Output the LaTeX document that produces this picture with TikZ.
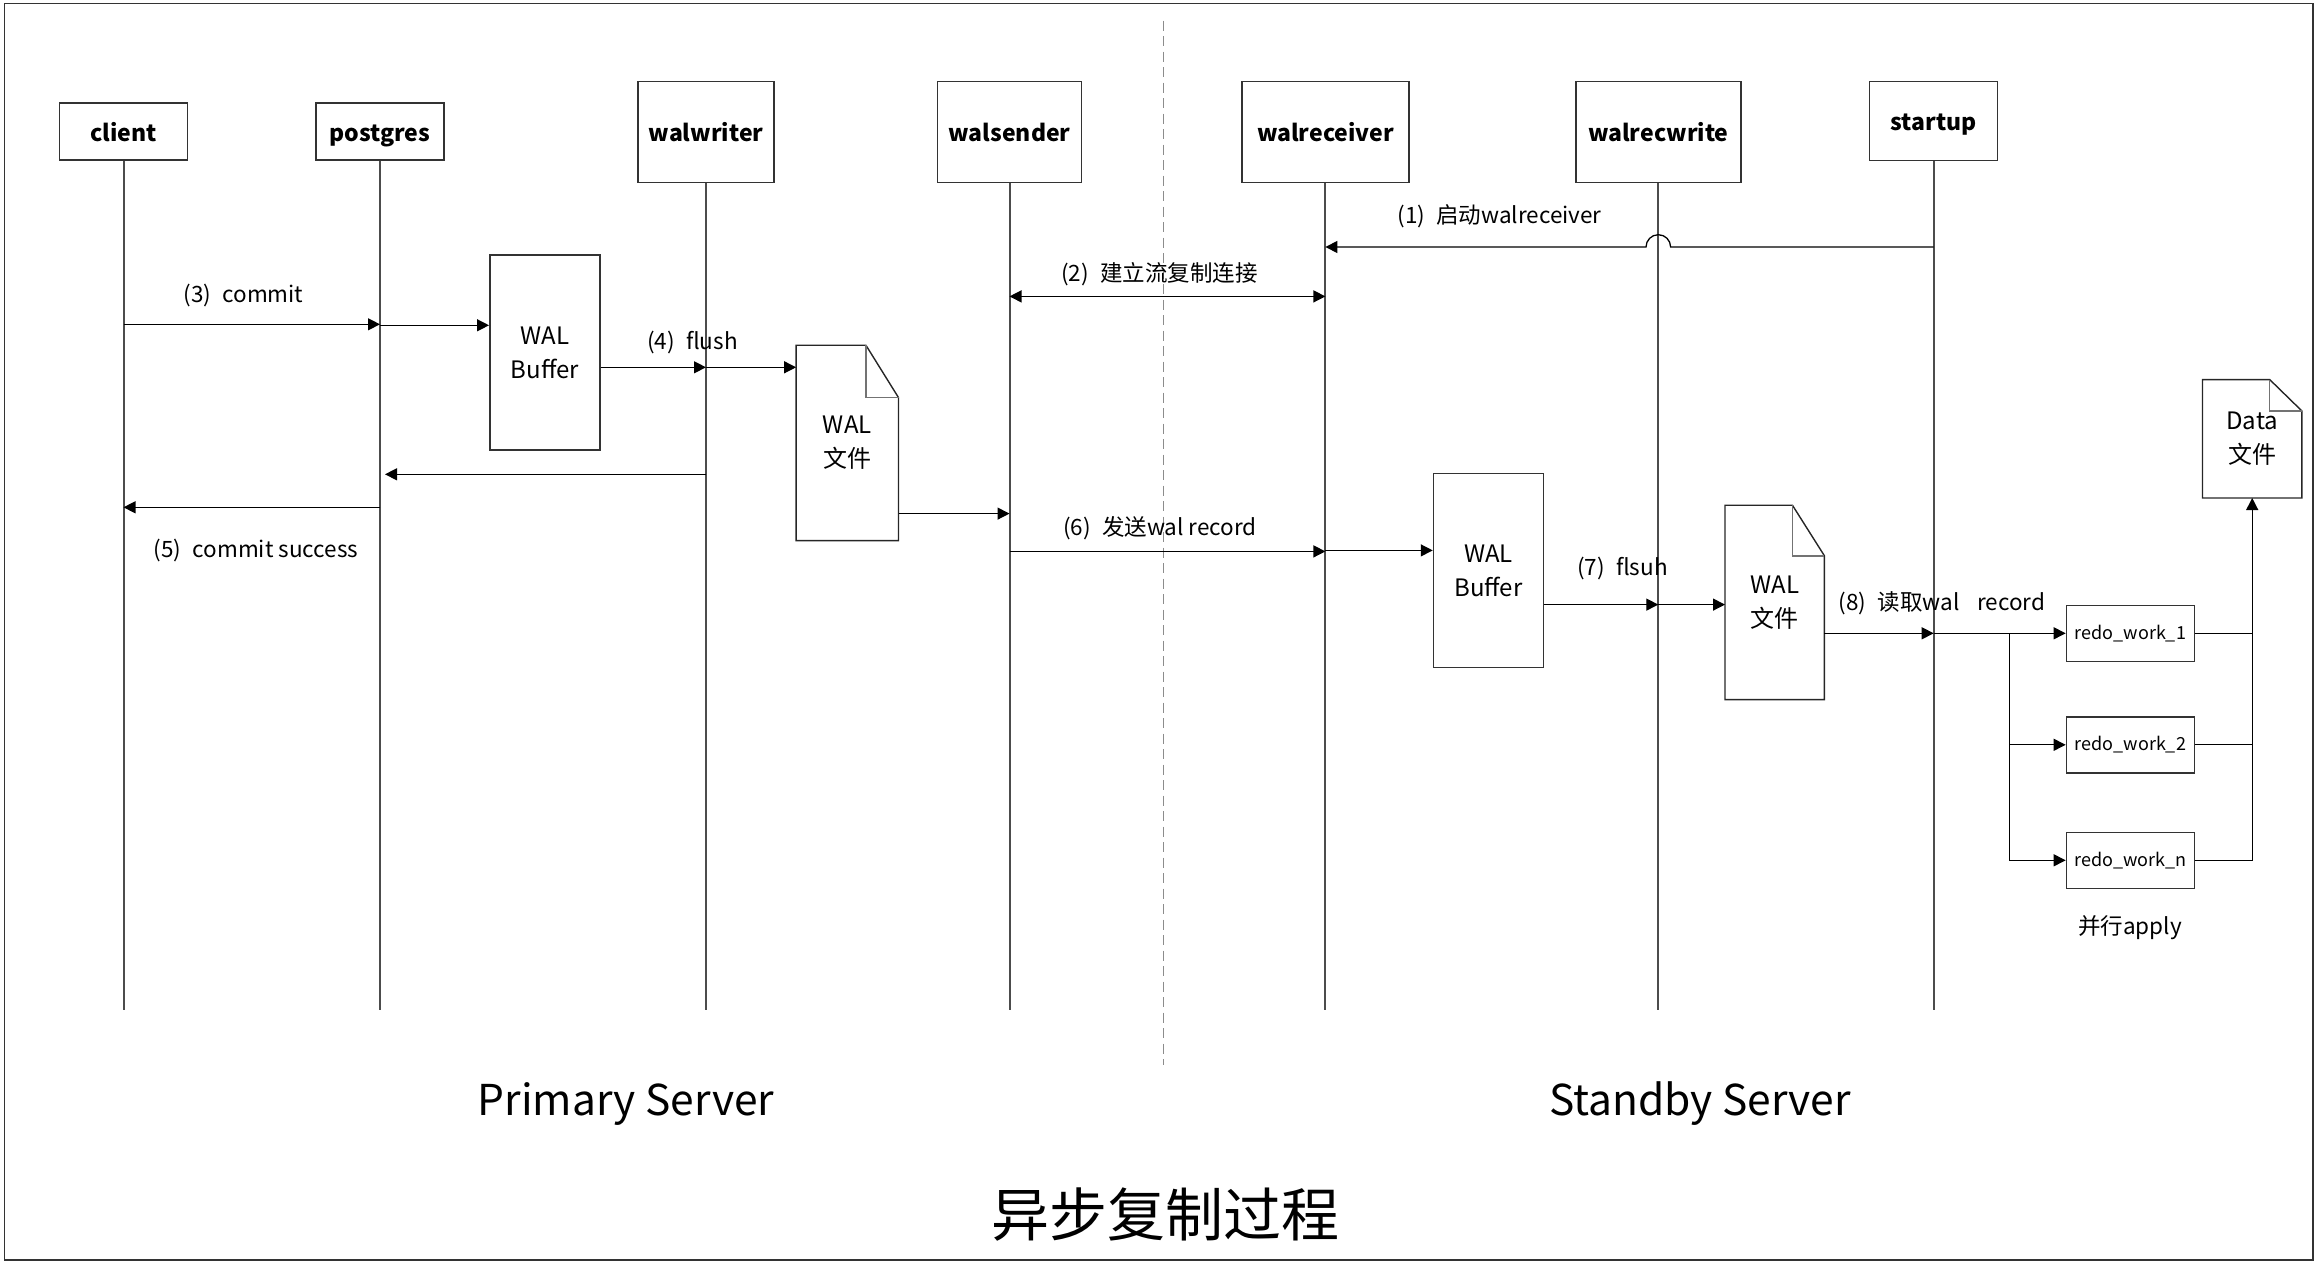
\documentclass[tikz,border=0pt]{standalone}
\usepackage{fontspec}
\setmainfont{Noto Sans CJK SC}
\usetikzlibrary{arrows.meta,calc}

\newcommand{\dogear}[3]{%
  \draw [line width=1.4pt, black!85] (#1.south west) -- (#1.north west) -- ([xshift=-#2pt]#1.north east)
    -- ([yshift=-#3pt]#1.north east) -- (#1.south east) -- cycle;
  \draw [line width=1.4pt, black!55] ([xshift=-#2pt]#1.north east) |- ([yshift=-#3pt]#1.north east);
}

\tikzset{
  >={Triangle[length=12pt,width=12pt]},
  proc/.style={draw=black!80, line width=1.5pt, inner sep=0pt, text height=20pt, text depth=0pt,
    font=\fontsize{23}{27}\selectfont\bfseries},
  life/.style={draw=black!70, line width=2pt},
  msg/.style={->, line width=1.3pt},
  lbl/.style={inner sep=0pt, font=\fontsize{22.5}{26}\selectfont},
  buf/.style={draw=black!80, line width=1.5pt, inner sep=0pt, align=center, font=\fontsize{24}{34}\selectfont},
  wfile/.style={inner sep=0pt, align=center, font=\fontsize{24}{34}\selectfont},
  redo/.style={draw=black!80, line width=1.5pt, inner sep=0pt, minimum width=128pt, minimum height=56pt,
    font=\fontsize{18}{20}\selectfont},
}

\begin{document}
\begin{tikzpicture}[x=1pt, y=-1pt]
  \useasboundingbox (0,0) rectangle (2320,1265);
  \draw [black!80, line width=1.5pt] (4.3,3.3) rectangle (2313,1260);
  \draw [black!45, line width=1.2pt, dash pattern=on 10pt off 5.5pt] (1163.3,20.7) -- (1163.3,1065);

  \node [proc, minimum width=128pt, minimum height=57pt] (client) at (123.5,131.7) {client};
  \node [proc, minimum width=128pt, minimum height=57pt] (postgres) at (380,131.7) {postgres};
  \node [proc, minimum width=136pt, minimum height=101pt] (walwriter) at (706,131.8) {walwriter};
  \node [proc, minimum width=144pt, minimum height=101pt] (walsender) at (1009.5,131.8) {walsender};
  \node [proc, minimum width=167pt, minimum height=101pt] (walreceiver) at (1325.4,131.8) {walreceiver};
  \node [proc, minimum width=165pt, minimum height=101pt] (walrecwrite) at (1658.3,131.8) {walrecwrite};
  \node [proc, minimum width=128pt, minimum height=79pt] (startup) at (1933.7,120.9) {startup};

  \foreach \p in {client, postgres, walwriter, walsender, walreceiver, walrecwrite, startup}
    \draw [life] (\p.south) -- (\p |- 0,1010);

  \node [buf, minimum width=110pt, minimum height=195pt] (wb1) at (544.8,352.7) {WAL\\Buffer};
  \node [buf, minimum width=110pt, minimum height=194pt] (wb2) at (1488.5,570.4) {WAL\\Buffer};

  \node [wfile, minimum width=102pt, minimum height=195pt] (wf1) at (847.3,442.9) {WAL\\文件};
  \dogear{wf1}{32.6}{52.4}
  \node [wfile, minimum width=99pt, minimum height=194pt] (wf2) at (1774.7,602.4) {WAL\\文件};
  \dogear{wf2}{32}{50.6}
  \node [wfile, minimum width=99pt, minimum height=118pt] (data) at (2252.2,438.8) {Data\\文件};
  \dogear{data}{32.2}{31.4}

  \node [redo] (redo1) at (2130.4,633.3) {redo\_work\_1};
  \node [redo] (redo2) at (2130.4,744.8) {redo\_work\_2};
  \node [redo] (redon) at (2130.4,860.3) {redo\_work\_n};

  \draw [msg] (startup |- 0,247) -- ($(walrecwrite |- 0,247)+(12.3,0)$)
    arc [start angle=0, end angle=180, radius=12.3pt] -- (walreceiver |- 0,247);
  \draw [msg, <->] (walsender |- 0,296.4) -- (walreceiver |- 0,296.4);
  \draw [msg] (client |- 0,324.3) -- (postgres |- 0,324.3);
  \draw [msg] (postgres |- 0,325.3) -- (wb1.west |- 0,325.3);
  \draw [msg] (wb1.east |- 0,367.3) -- (walwriter |- 0,367.3);
  \draw [msg] (walwriter |- 0,367.3) -- (wf1.west |- 0,367.3);
  \draw [msg] (walwriter |- 0,474.3) -- ($(postgres |- 0,474.3)+(5,0)$);
  \draw [msg] (postgres |- 0,507.3) -- (client |- 0,507.3);
  \draw [msg] (wf1.east |- 0,513.6) -- (walsender |- 0,513.6);
  \draw [msg] (walsender |- 0,551.4) -- (walreceiver |- 0,551.4);
  \draw [msg] (walreceiver |- 0,550.4) -- (wb2.west |- 0,550.4);
  \draw [msg] (wb2.east |- 0,604.6) -- (walrecwrite |- 0,604.6);
  \draw [msg] (walrecwrite |- 0,604.6) -- (wf2.west |- 0,604.6);
  \draw [msg] (wf2.east |- 0,633.3) -- (startup |- 0,633.3);
  \draw [msg] (startup |- 0,633.3) -- (redo1.west);
  \coordinate (fork) at (2009.2,633.3);
  \draw [msg] (fork) |- (redo2.west);
  \draw [msg] (fork) |- (redon.west);
  \draw [line width=1.3pt] (redo1.east) -- (data.south |- redo1.east);
  \draw [line width=1.3pt] (redo2.east) -- (data.south |- redo2.east);
  \draw [msg] (redon.east) -| (data.south);

  \node [lbl] (step1) at (1499.5,216) {(1)\hspace{0.5em}启动walreceiver};
  \node [lbl] (step2) at (1159.5,274) {(2)\hspace{0.5em}建立流复制连接};
  \node [lbl] (step3) at (243.5,295.7) {(3)\hspace{0.5em}commit};
  \node [lbl] (step4) at (692.5,343) {(4)\hspace{0.5em}flush};
  \node [lbl] (step5) at (256,550) {(5)\hspace{0.5em}commit success};
  \node [lbl] (step6) at (1160,528) {(6)\hspace{0.5em}发送wal record};
  \node [lbl] (step7) at (1622.5,568) {(7)\hspace{0.5em}flsuh};
  \node [lbl] (step8) at (1942,603.3) {(8)\hspace{0.5em}读取wal\hspace{18pt}record};
  \node [lbl] (apply) at (2130,928) {并行apply};

  \node [font=\fontsize{42.5}{48}\selectfont] (primary) at (626,1104) {Primary Server};
  \node [font=\fontsize{42.5}{48}\selectfont] (standby) at (1700,1104) {Standby Server};
  \node [font=\fontsize{58}{62}\selectfont] (title) at (1165,1215) {异步复制过程};
\end{tikzpicture}
\end{document}
